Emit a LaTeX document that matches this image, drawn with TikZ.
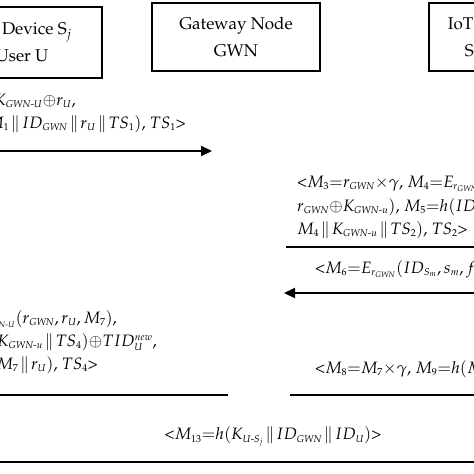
\documentclass[tikz,border=0pt]{standalone}
\usepackage[T1]{fontenc}
\usepackage{mathpazo}
\usepackage{amsmath}
\usetikzlibrary{arrows.meta}
\DeclareMathSizes{16.5}{16.5}{10}{8}
\newcommand{\gwn}{\mathit{GWN}}
\newcommand{\cat}{\mskip2mu\|\mskip2mu}
\newcommand{\eq}{{=}}
\newcommand{\xr}{{\times}}
\newcommand{\xo}{{\oplus}}

\begin{document}
\begin{tikzpicture}[x=1pt,y=-1pt,
  party/.style={draw,line width=1.8pt,minimum width=168pt,minimum height=68pt,align=center,inner sep=0pt,font=\fontsize{17}{27}\selectfont},
  msg/.style={inner sep=0pt,font=\fontsize{16.5}{23}\selectfont},
  send/.style={line width=2.2pt,-{Triangle[length=11pt,width=10pt]}}]
\useasboundingbox (0,0) rectangle (474,474);
\clip (0,0) rectangle (474,474);

\node[party,minimum width=160pt,minimum height=71pt] (user) at (22,42.5) {IoT Device S$_j$\\User U};
\node[party] (gwn) at (236,37) {Gateway Node\\GWN};
\node[party] (sn) at (513,37) {IoT Smart Device\\Sensor Node};

% user -> gwn
\node[msg,anchor=base east] (m1a) at (76,105) {$M_1\eq TID_U\xo K_{\gwn\text{-}U}\xo r_U$,};
\node[msg,anchor=base east] (m1b) at (186,128) {$M_2\eq h(TID_U\cat M_1\cat ID_{\gwn}\cat r_U\cat TS_1)$, $TS_1$>};
\coordinate (u1) at (-80,151);
\coordinate (g1) at (212,151);
\draw[send] (u1) -- (g1);

% gwn -> sensor
\node[msg,anchor=base west] (m2a) at (297,187) {<$M_3\eq r_{\gwn}\xr\gamma$, $M_4\eq E_{r_{\gwn}}(ID_U, TID_U^{new},$};
\node[msg,anchor=base west] (m2b) at (297,211) {$r_{\gwn}\xo K_{\gwn\text{-}u})$, $M_5\eq h(ID_U\cat M_3\cat$};
\node[msg,anchor=base west] (m2c) at (297,234) {$M_4\cat K_{\gwn\text{-}u}\cat TS_2)$, $TS_2$>};
\coordinate (g2) at (286,247);
\coordinate (s2) at (560,247);
\draw[send] (g2) -- (s2);

% sensor -> gwn
\node[msg,anchor=base west] (m3) at (315,273) {<$M_6\eq E_{r_{\gwn}}(ID_{S_m}, s_m, f_m, TS_3)$, $TS_3$>};
\coordinate (s3) at (560,293);
\coordinate (g3) at (284,293);
\draw[send] (s3) -- (g3);

% gwn -> user
\node[msg,anchor=base east] (m4a) at (117,323) {<$M_{10}\eq E_{K_{\gwn\text{-}U}}(r_{\gwn}, r_U, M_7)$,};
\node[msg,anchor=base east] (m4b) at (157,346) {$M_{11}\eq h(ID_U\cat K_{\gwn\text{-}u}\cat TS_4)\xo TID_U^{new}$,};
\node[msg,anchor=base east] (m4c) at (98,369) {$M_{12}\eq h(M_{10}\cat M_7\cat r_U)$, $TS_4$>};
\coordinate (g4) at (228,395);
\coordinate (u4) at (-80,395);
\draw[send] (g4) -- (u4);

% gwn -> sensor
\node[msg,anchor=base west] (m5) at (315,373) {<$M_8\eq M_7\xr\gamma$, $M_9\eq h(M_7\cat M_8\cat TS_5)$, $TS_5$>};
\coordinate (g5) at (290,395);
\coordinate (s5) at (560,395);
\draw[send] (g5) -- (s5);

% user -> sensor
\node[msg] (m6) at (273,437) {<$M_{13}\eq h(K_{U\text{-}S_j}\cat ID_{\gwn}\cat ID_U)$>};
\coordinate (u6) at (-80,462);
\coordinate (s6) at (560,462);
\draw[send] (u6) -- (s6);

\end{tikzpicture}
\end{document}
